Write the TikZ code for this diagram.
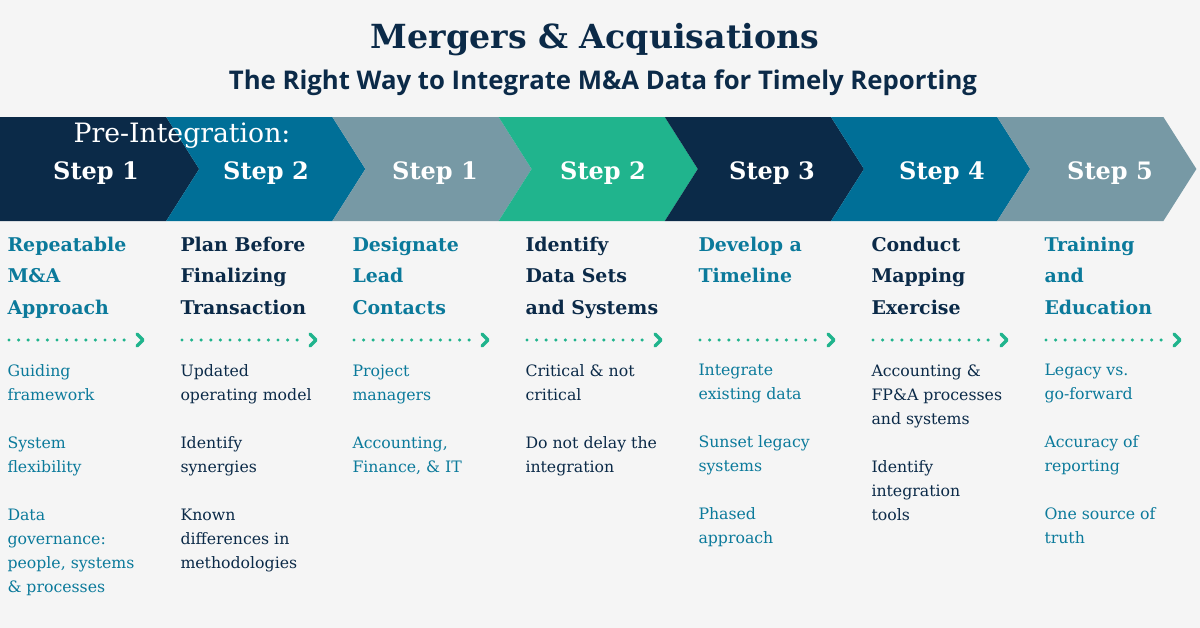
\documentclass[tikz,border=0pt]{standalone}
\usepackage{fontspec}
\setmainfont{DejaVu Serif}
\newfontfamily\subfont{Open Sans}
\definecolor{navy}{HTML}{0B2A48}
\definecolor{ocean}{HTML}{006F97}
\definecolor{slate}{HTML}{7799A5}
\definecolor{mint}{HTML}{20B48D}
\definecolor{headblue}{HTML}{0B7A9B}
\definecolor{paper}{HTML}{F5F5F5}
\tikzset{
	heading/.style={anchor=north west, inner sep=0pt, align=left, font=\bfseries\fontsize{14.2}{23.3}\selectfont},
	bodytext/.style={anchor=north west, inner sep=0pt, align=left, font=\fontsize{11.8}{18}\selectfont},
	steplabel/.style={text=white, font=\bfseries\fontsize{18}{22}\selectfont},
	dotline/.style={mint, line width=2.6pt, line cap=round, dash pattern=on 0pt off 7.2pt},
	dothead/.style={mint, line width=2.6pt, line cap=round, line join=round}
}
\tikzset{every picture/.style={line width=0.75pt}}

\begin{document}
\begin{tikzpicture}[x=0.75pt,y=0.75pt,yscale=-1,xscale=1]
	% background
	\fill[paper] (0,0) rectangle (1200,628);
	\useasboundingbox (0,0) rectangle (1200,628);

	% Title
	\node[navy, font=\bfseries\fontsize{24.9}{30}\selectfont] (title) at (595,40) {Mergers \& Acquisations};
	\node[navy, font=\subfont\bfseries\fontsize{19.3}{24}\selectfont] (subtitle) at (603,83) {The Right Way to Integrate M\&A Data for Timely Reporting};

	% Chevrons
	\foreach \i/\col in {0/navy,1/ocean,2/slate,3/mint,4/navy,5/ocean,6/slate}{
		\pgfmathsetmacro{\L}{166.2*\i}
		\pgfmathsetmacro{\R}{166.2*(\i+1)}
		\ifnum\i=0
			\fill[\col] (\L,117) -- (\R,117) -- (\R+33,169) -- (\R,221) -- (\L,221) -- cycle;
		\else
			\fill[\col] (\L,117) -- (\R,117) -- (\R+33,169) -- (\R,221) -- (\L,221) -- (\L+33,169) -- cycle;
		\fi
	}

	% Step labels
	\node[text=white, font=\fontsize{20}{24}\selectfont] (pre) at (182,136) {Pre-Integration:};
	\node[steplabel] (s1) at (96,173) {Step 1};
	\node[steplabel] (s2) at (266,173) {Step 2};
	\node[steplabel] (t1) at (435,173) {Step 1};
	\node[steplabel] (t2) at (603,173) {Step 2};
	\node[steplabel] (t3) at (772,173) {Step 3};
	\node[steplabel] (t4) at (942,173) {Step 4};
	\node[steplabel] (t5) at (1110,173) {Step 5};

	% Columns
	\foreach \n/\x/\col/\head/\body in {
		1/7/headblue/{Repeatable\\M\&A\\Approach}/{Guiding\\framework\\[18pt]System\\flexibility\\[18pt]Data\\governance:\\people, systems\\\& processes},
		2/180/navy/{Plan Before\\Finalizing\\Transaction}/{Updated\\operating model\\[18pt]Identify\\synergies\\[18pt]Known\\differences in\\methodologies},
		3/352/headblue/{Designate\\Lead\\Contacts}/{Project\\managers\\[18pt]Accounting,\\Finance, \& IT},
		4/525/navy/{Identify\\Data Sets\\and Systems}/{Critical \& not\\critical\\[18pt]Do not delay the\\integration},
		5/698/headblue/{Develop a\\Timeline}/{Integrate\\existing data\\[18pt]Sunset legacy\\systems\\[18pt]Phased\\approach},
		6/871/navy/{Conduct\\Mapping\\Exercise}/{Accounting \&\\FP\&A processes\\and systems\\[18pt]Identify\\integration\\tools},
		7/1044/headblue/{Training\\and\\Education}/{Legacy vs.\\go-forward\\[18pt]Accuracy of\\reporting\\[18pt]One source of\\truth}}{
		\node[heading, text=\col] (head\n) at (\x,237) {\head};
		\node[bodytext, text=\col] (body\n) at (\x,364) {\body};
		\coordinate (dotA\n) at (\x+2,340);
		\coordinate (dotB\n) at (\x+124,340);
		\draw[dotline] (dotA\n) -- (dotB\n);
		\draw[dothead] ([xshift=96pt]dotA\n) ++(0,-6) -- ++(6,6) -- ++(-6,6);
	}
\end{tikzpicture}
\end{document}
